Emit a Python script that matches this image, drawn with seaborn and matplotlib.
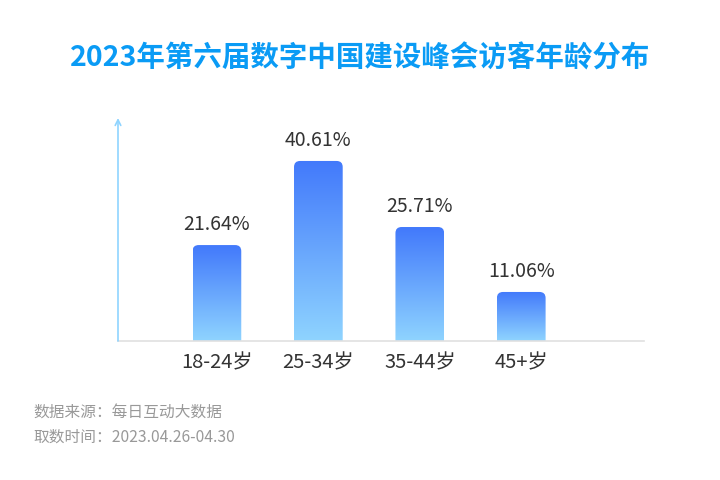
import numpy as np
import pandas as pd
import matplotlib
matplotlib.use("Agg")
import matplotlib.pyplot as plt
import seaborn as sns
from matplotlib.patches import FancyBboxPatch
from matplotlib.colors import LinearSegmentedColormap

categories = ["18-24岁", "25-34岁", "35-44岁", "45+岁"]
values = [21.64, 40.61, 25.71, 11.06]
value_labels = ["21.64%", "40.61%", "25.71%", "11.06%"]
title = "2023年第六届数字中国建设峰会访客年龄分布"
source_lines = ["数据来源：每日互动大数据", "取数时间：2023.04.26-04.30"]

sns.set_theme(style="white")
plt.rcParams['font.family'] = ['Noto Sans CJK SC', 'DejaVu Sans']

fig = plt.figure(figsize=(7.2, 4.8), dpi=100)
W, H = 720, 480
ax = fig.add_axes([118 / W, (H - 341) / H, (644 - 118) / W, (341 - 118) / H])

df = pd.DataFrame({"cat": categories, "val": values})
sns.barplot(data=df, x="cat", y="val", ax=ax, width=0.48, color="#4279FB", saturation=1)

ax.set_xlim(-0.975, 4.21)
ax.set_ylim(0, 50.3)

cmap = LinearSegmentedColormap.from_list("g", ["#8FD4FF", "#4279FB"])
grad = np.linspace(0, 1, 256).reshape(-1, 1)
for p, lab in zip(list(ax.patches), value_labels):
    x0, y0 = p.get_x(), p.get_y()
    w, h = p.get_width(), p.get_height()
    p.set_visible(False)
    im = ax.imshow(grad, cmap=cmap, origin="lower", aspect="auto",
                   extent=(x0, x0 + w, y0, y0 + h), zorder=2, interpolation="bicubic")
    clip = FancyBboxPatch((x0, y0 - 3), w, h + 3,
                          boxstyle="round,pad=0,rounding_size=0.06",
                          mutation_aspect=(50.3 / 223) / (5.185 / 526),
                          transform=ax.transData, facecolor="none", edgecolor="none")
    ax.add_patch(clip)
    im.set_clip_path(clip)
    ax.text(x0 + w / 2, y0 + h + 2.2, lab, ha="center", va="bottom",
            fontsize=14, color="#333333")

ax.set_xlim(-0.975, 4.21)
ax.set_ylim(0, 50.3)

ax.set_xlabel("")
ax.set_ylabel("")
ax.set_yticks([])
ax.tick_params(axis="x", length=0, pad=8, labelsize=14.5, labelcolor="#333333")
for s in ["top", "right", "left"]:
    ax.spines[s].set_visible(False)
ax.spines["bottom"].set_color("#E0E0E0")
ax.spines["bottom"].set_linewidth(1.2)
ax.set_facecolor("none")

# y axis with arrow
ax.annotate("", xy=(0, 1.0), xycoords="axes fraction", xytext=(0, 0),
            textcoords="axes fraction",
            arrowprops=dict(arrowstyle="->", color="#8FD4FF", lw=1.2,
                            shrinkA=0, shrinkB=0, mutation_scale=10))

fig.text(0.5, (H - 58) / H, title, ha="center", va="center", fontsize=20.5,
         fontweight="bold", color="#0A9BF5")
fig.text(33 / W, (H - 413) / H, source_lines[0], ha="left", va="center",
         fontsize=11.3, color="#999999")
fig.text(33 / W, (H - 437) / H, source_lines[1], ha="left", va="center",
         fontsize=11.3, color="#999999")

fig.savefig("out.png", dpi=100)
